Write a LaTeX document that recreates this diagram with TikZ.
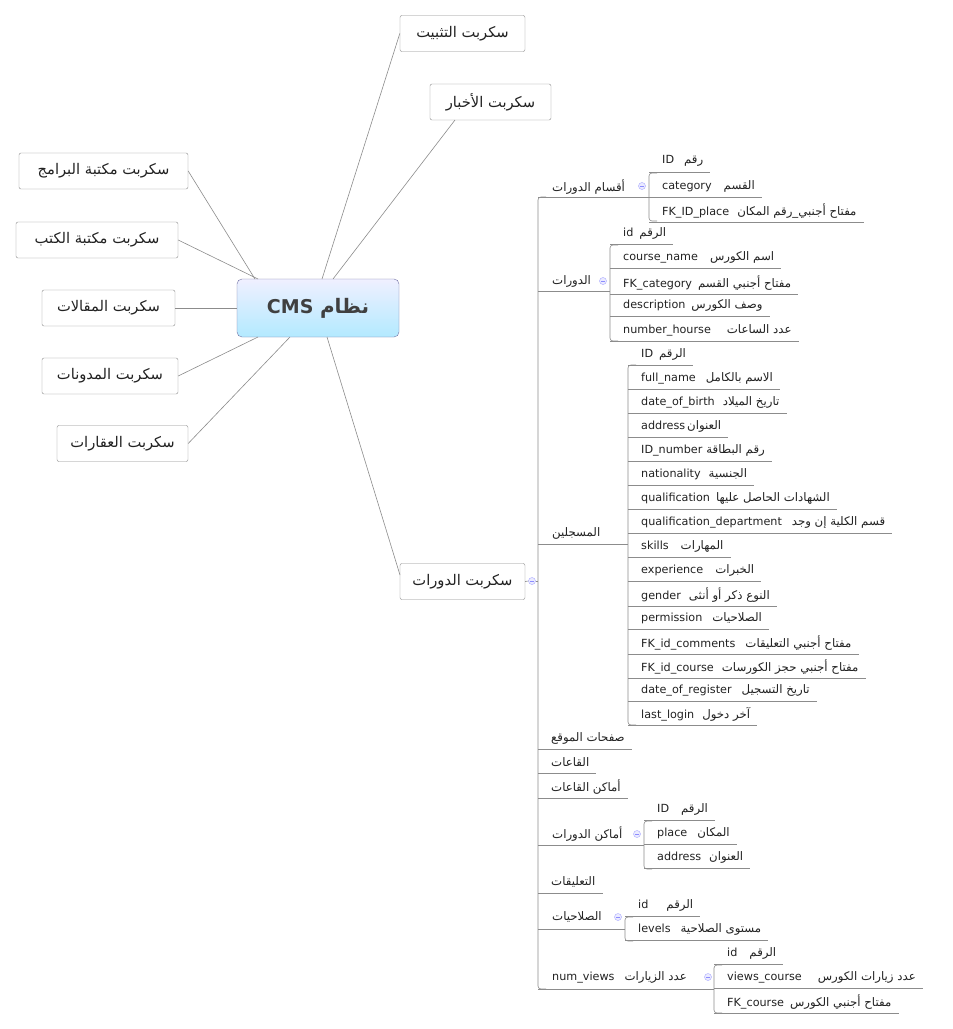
\documentclass[tikz,border=0pt]{standalone}
\usepackage{fontspec}
\setmainfont{DejaVu Sans}
\newfontfamily\arabicfont[Script=Arabic,Scale=1.05]{DejaVu Sans}
\TeXXeTstate=1
\newcommand\AR[1]{{\arabicfont\beginR #1\endR}}
\definecolor{ln}{HTML}{8C8C8C}
\definecolor{tx}{HTML}{222222}
\tikzset{
  box/.style={draw=ln, rounded corners=2pt, fill=white, minimum height=36pt, inner xsep=8pt, font=\fontsize{14}{16}\selectfont, text=tx},
  leaf/.style={anchor=west, inner sep=0pt, font=\fontsize{11.2}{13}\selectfont, text=tx},
  conn/.style={draw=ln, line width=0.6pt},
  tree/.style={draw=ln, line width=0.6pt, rounded corners=3pt},
  coll/.style={circle, draw=blue!35, fill=blue!8, inner sep=0pt, minimum size=7pt},
}
% #1 name, #2 bracket x, #3 text y, #4 text
\newcommand\lf[4]{%
  \node[leaf] (#1) at (#2+13,#3) {#4};
  \coordinate (#1u) at (#2,#3+11);
  \draw[conn] (#1u) -- ([xshift=7pt]#1.east |- #1u);
}
\newcommand\coll[3]{%
  \node[coll] (#1) at (#2,#3) {};
  \draw[blue!45, line width=0.5pt] ([xshift=-2pt]#1.center) -- ([xshift=2pt]#1.center);
}
\begin{document}
\begin{tikzpicture}[x=1pt,y=-1pt]
\useasboundingbox (0,0) rectangle (953,1029);
\fill[white] (0,0) rectangle (953,1029);
% central
\node[draw=ln!80!blue, rounded corners=5pt, top color=blue!6, bottom color=blue!28!cyan!30, minimum width=162pt, minimum height=58pt, font=\fontsize{19}{21}\selectfont\bfseries, text=black!75] (cms) at (318,308) {CMS \AR{نظام}};
% first-level boxes
\node[box, minimum width=125pt] (b1) at (462.5,33.5) {\AR{سكربت التثبيت}};
\node[box, minimum width=121pt] (b2) at (490.5,102) {\AR{سكربت الأخبار}};
\node[box, minimum width=169pt] (b3) at (103.5,171) {\AR{سكربت مكتبة البرامج}};
\node[box, minimum width=162pt] (b4) at (97,240) {\AR{سكربت مكتبة الكتب}};
\node[box, minimum width=133pt] (b5) at (108.5,308) {\AR{سكربت المقالات}};
\node[box, minimum width=136pt] (b6) at (110,376) {\AR{سكربت المدونات}};
\node[box, minimum width=131pt] (b7) at (122.5,443.5) {\AR{سكربت العقارات}};
\node[box, minimum width=125pt] (b8) at (462.5,581.5) {\AR{سكربت الدورات}};
\draw[conn] (322,279) -- (b1.west);
\draw[conn] (333,279) -- (455,120);
\draw[conn] (255,279) -- (b3.east);
\draw[conn] (258,279) -- (b4.east);
\draw[conn] (cms.west) -- (b5.east);
\draw[conn] (258,337) -- (b6.east);
\draw[conn] (290,337) -- (b7.east);
\draw[conn] (327,337) -- (400,575);
% trunk
\coll{cb8}{532}{581}
\draw[conn] (b8.east) -- (cb8.west);
\draw[conn] (cb8.east) -- (538,581);
\draw[tree] (546,197) -| (538,989) -- (546,989);
% level 2 branches
\node[leaf] (p1) at (552,187) {\AR{أقسام الدورات}};
\draw[conn] (538,197) -- (649,197);
\coll{c1}{642}{186}
\node[leaf] (p2) at (552,281) {\AR{الدورات}};
\draw[conn] (538,291) -- (610,291);
\coll{c2}{603}{281}
\node[leaf] (p3) at (552,533) {\AR{المسجلين}};
\draw[conn] (538,544) -- (628,544);
\lf{p4}{538}{738}{\AR{صفحات الموقع}}
\lf{p5}{538}{762}{\AR{القاعات}}
\lf{p6}{538}{787}{\AR{أماكن القاعات}}
\node[leaf] (p7) at (552,834) {\AR{أماكن الدورات}};
\draw[conn] (538,845) -- (644,845);
\coll{c7}{637}{834}
\lf{p8}{538}{882}{\AR{التعليقات}}
\node[leaf] (p9) at (552,917) {\AR{الصلاحيات}};
\draw[conn] (538,929) -- (625,929);
\coll{c9}{618}{917}
\node[leaf] (p10) at (552,977) {num\_views\hspace{10pt}\AR{عدد الزيارات}};
\draw[conn] (538,989) -- (714,989);
\coll{c10}{708}{977}
% group 1
\draw[tree] (657,173) -- (649,173) -- (649,221) -- (657,221);
\lf{a1}{649}{161}{ID\hspace{10pt}\AR{رقم}}
\lf{a2}{649}{186}{category\hspace{12pt}\AR{القسم}}
\lf{a3}{649}{211}{FK\_ID\_place\hspace{8pt}\AR{مفتاح أجنبي\_رقم المكان}}
% group 2
\draw[tree] (618,245) -- (610,245) -- (610,341) -- (618,341);
\lf{d1}{610}{233}{id\hspace{6pt}\AR{الرقم}}
\lf{d2}{610}{257}{course\_name\hspace{12pt}\AR{اسم الكورس}}
\lf{d3}{610}{283}{FK\_category\hspace{6pt}\AR{مفتاح أجنبي القسم}}
\lf{d4}{610}{305}{description\hspace{6pt}\AR{وصف الكورس}}
\lf{d5}{610}{330}{number\_hourse\hspace{16pt}\AR{عدد الساعات}}
% group 3
\draw[tree] (636,365) -- (628,365) -- (628,725) -- (636,725);
\lf{m1}{628}{354}{ID\hspace{6pt}\AR{الرقم}}
\lf{m2}{628}{378}{full\_name\hspace{10pt}\AR{الاسم بالكامل}}
\lf{m3}{628}{402}{date\_of\_birth\hspace{8pt}\AR{تاريخ الميلاد}}
\lf{m4}{628}{426}{address\hspace{2pt}\AR{العنوان}}
\lf{m5}{628}{450}{ID\_number\hspace{4pt}\AR{رقم البطاقة}}
\lf{m6}{628}{474}{nationality\hspace{8pt}\AR{الجنسية}}
\lf{m7}{628}{498}{qualification\hspace{6pt}\AR{الشهادات الحاصل عليها}}
\lf{m8}{628}{522}{qualification\_department\hspace{10pt}\AR{قسم الكلية إن وجد}}
\lf{m9}{628}{546}{skills\hspace{12pt}\AR{المهارات}}
\lf{m10}{628}{570}{experience\hspace{12pt}\AR{الخبرات}}
\lf{m11}{628}{595}{gender\hspace{8pt}\AR{النوع ذكر أو أنثى}}
\lf{m12}{628}{618}{permission\hspace{10pt}\AR{الصلاحيات}}
\lf{m13}{628}{643}{FK\_id\_comments\hspace{10pt}\AR{مفتاح أجنبي التعليقات}}
\lf{m14}{628}{667}{FK\_id\_course\hspace{8pt}\AR{مفتاح أجنبي حجز الكورسات}}
\lf{m15}{628}{690}{date\_of\_register\hspace{10pt}\AR{تاريخ التسجيل}}
\lf{m16}{628}{714}{last\_login\hspace{8pt}\AR{آخر دخول}}
% group 7
\draw[tree] (652,821) -- (644,821) -- (644,869) -- (652,869);
\lf{g1}{644}{809}{ID\hspace{12pt}\AR{الرقم}}
\lf{g2}{644}{833}{place\hspace{10pt}\AR{المكان}}
\lf{g3}{644}{857}{address\hspace{8pt}\AR{العنوان}}
% group 9
\draw[tree] (633,917) -- (625,917) -- (625,941) -- (633,941);
\lf{s1}{625}{905}{id\hspace{18pt}\AR{الرقم}}
\lf{s2}{625}{929}{levels\hspace{10pt}\AR{مستوى الصلاحية}}
% group 10
\draw[tree] (722,965) -- (714,965) -- (714,1013) -- (722,1013);
\lf{v1}{714}{953}{id\hspace{12pt}\AR{الرقم}}
\lf{v2}{714}{977}{views\_course\hspace{16pt}\AR{عدد زيارات الكورس}}
\lf{v3}{714}{1002}{FK\_course\hspace{6pt}\AR{مفتاح أجنبي الكورس}}
\end{tikzpicture}
\end{document}
